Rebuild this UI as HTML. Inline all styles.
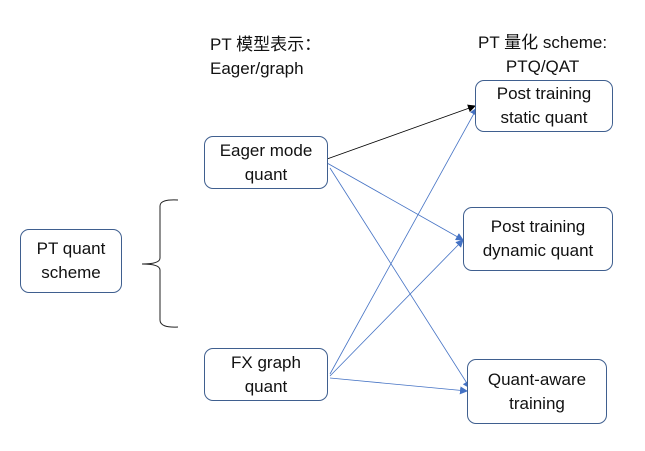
<!DOCTYPE html>
<html><head><meta charset="utf-8"><style>
body{margin:0;background:#fff;width:645px;height:451px;overflow:hidden;font-family:"Liberation Sans","Noto Sans CJK SC",sans-serif;}
svg{position:absolute;left:0;top:0}
.b{position:absolute;border:1.5px solid #3f5f8f;border-radius:9px;box-sizing:border-box;display:flex;align-items:center;justify-content:center;text-align:center;font-size:17px;line-height:24px;color:#111;background:#fff}
.t{position:absolute;font-size:17px;line-height:24px;color:#111}
</style></head><body>
<svg width="645" height="451">
<defs>
<marker id="ab" markerWidth="8" markerHeight="8" refX="7" refY="4" orient="auto" markerUnits="userSpaceOnUse"><path d="M0,0 L8,4 L0,8z" fill="#4472c4"/></marker>
<marker id="ak" markerWidth="8" markerHeight="8" refX="7" refY="4" orient="auto" markerUnits="userSpaceOnUse"><path d="M0,0 L8,4 L0,8z" fill="#000"/></marker>
</defs>
<path d="M178,200 Q160,199 160,206 L160,258 Q160,264 142,264 Q160,264 160,270 L160,320 Q160,328 178,327" fill="none" stroke="#222" stroke-width="1"/>
<g stroke-width="0.8" fill="none">
<line x1="327" y1="159" x2="475" y2="106" stroke="#000" marker-end="url(#ak)"/>
<line x1="327" y1="163" x2="463" y2="240" stroke="#4472c4" marker-end="url(#ab)"/>
<line x1="330" y1="168" x2="470" y2="388" stroke="#4472c4" marker-end="url(#ab)"/>
<line x1="330" y1="374" x2="477" y2="108" stroke="#4472c4" marker-end="url(#ab)"/>
<line x1="330" y1="376" x2="463" y2="240" stroke="#4472c4" marker-end="url(#ab)"/>
<line x1="330" y1="378" x2="467" y2="391" stroke="#4472c4" marker-end="url(#ab)"/>
</g>
</svg>
<div class="t" style="left:210px;top:33px">PT 模型表示：<br>Eager/graph</div>
<div class="t" style="left:478px;top:31px;text-align:center">PT 量化 scheme:<br>PTQ/QAT</div>
<div class="b" style="left:20px;top:229px;width:102px;height:64px">PT quant<br>scheme</div>
<div class="b" style="left:204px;top:136px;width:124px;height:53px">Eager mode<br>quant</div>
<div class="b" style="left:204px;top:348px;width:124px;height:53px">FX graph<br>quant</div>
<div class="b" style="left:475px;top:80px;width:138px;height:52px">Post training<br>static quant</div>
<div class="b" style="left:463px;top:207px;width:150px;height:64px">Post training<br>dynamic quant</div>
<div class="b" style="left:467px;top:359px;width:140px;height:65px">Quant-aware<br>training</div>
</body></html>
